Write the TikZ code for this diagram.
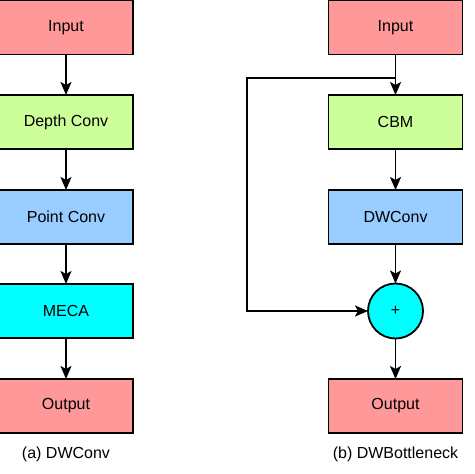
\documentclass[tikz,border=0pt]{standalone}
\usepackage{fontspec}
\setmainfont{Liberation Sans}
\usetikzlibrary{arrows.meta}
\begin{document}
\begin{tikzpicture}[x=0.5pt,y=-0.5pt,line width=0.9pt,
                    >={Stealth[length=6.5pt,width=5.5pt,inset=1.5pt]}]
\tikzset{boite/.style = {draw,
                         shape          = rectangle,
                         text           = black,
                         inner sep      = 0pt,
                         outer sep      = 0pt,
                         minimum width  = 67pt,
                         minimum height = 27pt,
                         font           = \fontsize{8pt}{9pt}\selectfont},
         somme/.style = {boite,
                         shape          = circle,
                         minimum width  = 27.5pt,
                         minimum height = 27.5pt},
         legende/.style = {font = \fontsize{8pt}{9pt}\selectfont}}
\definecolor{col1}{HTML}{FF9999}
\definecolor{col2}{HTML}{CCFF99}
\definecolor{col3}{HTML}{99CCFF}
\definecolor{col4}{HTML}{00FFFF}
\useasboundingbox (0,0) rectangle (474,474);
% (a) DWConv
\node[boite,fill=col1] (A0) at (66,27.5)  {Input};
\node[boite,fill=col2] (A1) at (66,122)   {Depth Conv};
\node[boite,fill=col3] (A2) at (66,217)   {Point Conv};
\node[boite,fill=col4] (A3) at (66,311)   {MECA};
\node[boite,fill=col1] (A4) at (66,406)   {Output};
\node[legende] (LA) at (66,454) {(a) DWConv};
\draw[->] (A0) -- (A1);
\draw[->] (A1) -- (A2);
\draw[->] (A2) -- (A3);
\draw[->] (A3) -- (A4);
% (b) DWBottleneck
\node[boite,fill=col1] (B0) at (395.5,27.5) {Input};
\node[boite,fill=col2] (B1) at (395.5,122)  {CBM};
\node[boite,fill=col3] (B2) at (395.5,217)  {DWConv};
\node[somme,fill=col4] (B3) at (395.5,311)  {+};
\node[boite,fill=col1] (B4) at (395.5,406)  {Output};
\node[legende] (LB) at (395.5,454) {(b) DWBottleneck};
\coordinate (C1) at (395.5,78);
\coordinate (C2) at (247,78);
\coordinate (C3) at (247,311);
\draw[->] (B0) -- (B1);
\draw[->] (B1) -- (B2);
\draw[->] (B2) -- (B3);
\draw[->] (B3) -- (B4);
\draw[->] (C1) -- (C2) -- (C3) -- (B3);
\end{tikzpicture}
\end{document}
